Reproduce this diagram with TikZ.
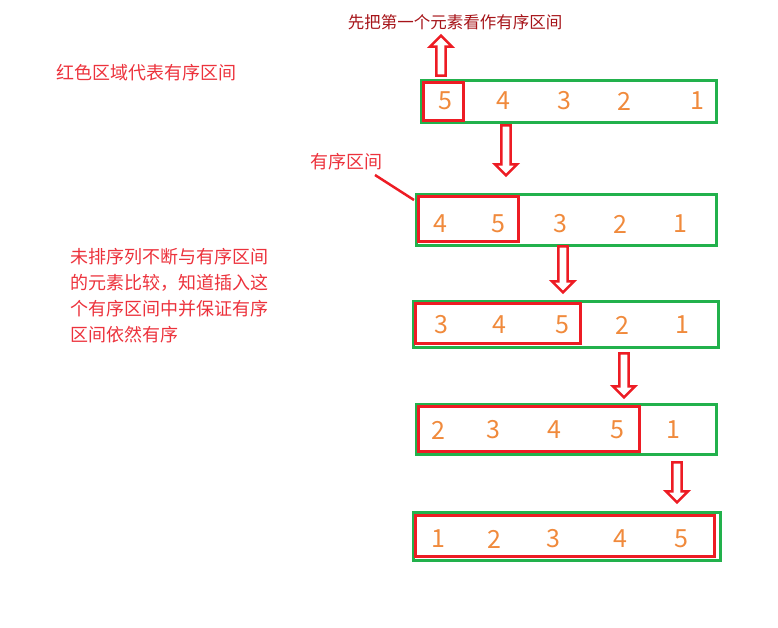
\documentclass[tikz,border=0pt]{standalone}
\usepackage{fontspec}
\newfontfamily\cjk{Noto Sans CJK SC}
\usetikzlibrary{%
  shapes.arrows,% wg. single arrow
  positioning%
}
\definecolor{okgreen}{RGB}{34,177,76}
\definecolor{hlred}{RGB}{237,28,36}
\definecolor{numorange}{RGB}{240,138,60}
\definecolor{notered}{RGB}{236,50,60}
\tikzset{
  greenbox/.style={draw=okgreen,line width=3pt},
  redbox/.style={draw=hlred,line width=3pt},
  num/.style={text=numorange,font=\fontsize{25}{25}\selectfont\cjk},
  note/.style={text=notered,font=\fontsize{18}{26}\selectfont\cjk,align=left},
  hollow/.style={single arrow,draw=hlred,line width=2.5pt,fill=white,
    minimum width=22pt,single arrow head extend=3pt,inner sep=1pt}
}
\begin{document}
\begin{tikzpicture}[x=1pt,y=-1pt]
  \useasboundingbox (0,0) rectangle (778,627);
  %rows
  \draw[greenbox] (421,80) rectangle (716,122);
  \draw[redbox] (423,82) rectangle (463,120);
  \draw[greenbox] (416,194) rectangle (716,245);
  \draw[redbox] (418,196) rectangle (518,241);
  \draw[greenbox] (413,301) rectangle (718,347);
  \draw[redbox] (415,303) rectangle (580,343);
  \draw[greenbox] (416,404) rectangle (716,454);
  \draw[redbox] (418,406) rectangle (639,451);
  \draw[greenbox] (413,512) rectangle (720,560);
  \draw[redbox] (415,515) rectangle (714,556);
  %numbers
  \foreach \x/\v in {445/5,503/4,564/3,624/2,697/1}
    \node[num] at (\x,101) {\v};
  \foreach \x/\v in {440/4,498/5,560/3,620/2,680/1}
    \node[num] at (\x,224) {\v};
  \foreach \x/\v in {441/3,499/4,562/5,622/2,682/1}
    \node[num] at (\x,325) {\v};
  \foreach \x/\v in {438/2,493/3,554/4,617/5,673/1}
    \node[num] at (\x,430) {\v};
  \foreach \x/\v in {438/1,494/2,553/3,620/4,681/5}
    \node[num] at (\x,539) {\v};
  %arrows
  \node[hollow,rotate=90,minimum height=40pt] (up) at (441,58) {};
  \node[hollow,rotate=-90,minimum height=50pt] (down1) at (506,148) {};
  \node[hollow,rotate=-90,minimum height=46pt] (down2) at (563,267) {};
  \node[hollow,rotate=-90,minimum height=44pt] (down3) at (624,373) {};
  \node[hollow,rotate=-90,minimum height=40pt] (down4) at (677,480) {};
  %notes
  \node[note,text=hlred!70!black,font=\fontsize{16.5}{20}\selectfont\cjk] (first) at (455,22) {先把第一个元素看作有序区间};
  \node[note] (legend) at (146,73) {红色区域代表有序区间};
  \node[note] (sorted) at (346,162) {有序区间};
  \coordinate (box2) at (414,200);
  \draw[hlred,line width=2.5pt] (375,175) -- (box2);
  \node[note,anchor=north west,inner sep=0pt] (explain) at (70,248)
    {未排序列不断与有序区间\\的元素比较，知道插入这\\个有序区间中并保证有序\\区间依然有序};
\end{tikzpicture}
\end{document}
